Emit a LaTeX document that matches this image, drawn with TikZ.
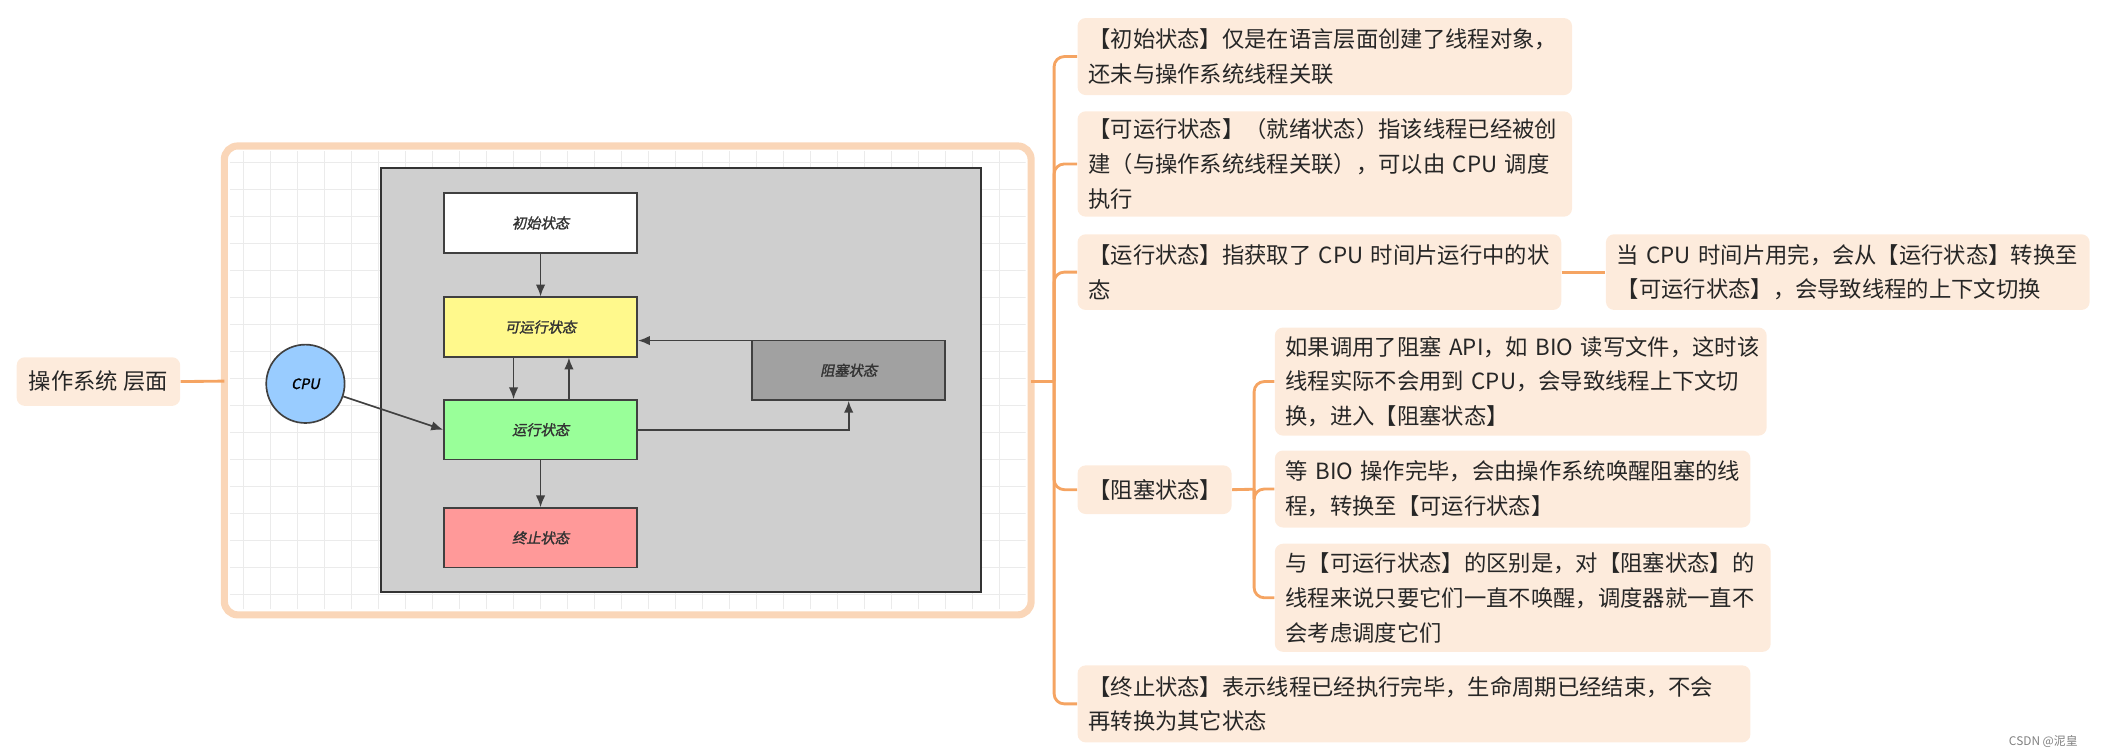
\documentclass[tikz,border=0pt]{standalone}
\usepackage{fontspec}
\setmainfont{Noto Sans CJK SC}
\newfontfamily\cjkit[FakeSlant=0.2,FakeBold=1.5]{Noto Sans CJK SC}
\usetikzlibrary{arrows.meta}
\definecolor{peach}{HTML}{FDEBDC}
\definecolor{orng}{HTML}{F5A462}
\definecolor{cpublue}{HTML}{99CCFF}
\begin{document}
\begin{tikzpicture}[x=0.02cm,y=-0.02cm,
  tbox/.style={fill=peach,rounded corners=0.12cm,anchor=north west,inner xsep=0.16cm,inner ysep=0pt,align=left,font=\fontsize{9.4}{14.6}\selectfont,text=black!85},
  br/.style={draw=orng,line width=1.2pt,rounded corners=0.15cm},
  st/.style={draw=black!75,line width=0.7pt,minimum width=2.86cm,minimum height=0.88cm,font=\cjkit\fontsize{6}{7}\selectfont,text=black!80},
  ar/.style={draw=black!75,line width=0.7pt,-{Latex[length=5pt,width=4pt]}}]
\useasboundingbox (0,0) rectangle (1568,558);
% root
\node[tbox,minimum width=2.42cm,minimum height=0.72cm] (root) at (12,264) {操作系统 层面};
% frame
\draw[draw=orng!45,line width=3pt,rounded corners=0.2cm,fill=white] (166,108) rectangle (763,455);
\begin{scope}
\clip (170,112) rectangle (759,451);
\draw[black!8,step=0.4cm] (170,112) grid (759,451);
\end{scope}
\draw[draw=orng,line width=1.2pt] (root.east) -- (166,282);
\draw[fill=black!19,draw=black!80,line width=0.8pt] (282,124) rectangle (726,438);
\node[st,fill=white] (init) at (400,165) {初始状态};
\node[st,fill=yellow!45] (runnable) at (400,242) {可运行状态};
\node[st,fill=green!40] (running) at (400,318) {运行状态};
\node[st,fill=red!40] (term) at (400,398) {终止状态};
\node[st,fill=black!37] (blocked) at (628,274) {阻塞状态};
\node[circle,draw=black!75,line width=0.7pt,fill=cpublue,minimum size=1.16cm,font=\cjkit\fontsize{6}{7}\selectfont] (cpu) at (226,284) {CPU};
\draw[ar] (init) -- (runnable);
\draw[ar] ([xshift=-0.4cm]runnable.south) -- ([xshift=-0.4cm]running.north);
\draw[ar] ([xshift=0.42cm]running.north) -- ([xshift=0.42cm]runnable.south);
\draw[ar] (running) -- (term);
\draw[ar] (cpu) -- (running.west);
\draw[ar] (running.east) -| (blocked.south);
\draw[ar] (blocked.north) |- ([yshift=-0.2cm]runnable.east);
% right side
\draw[br] (763,282) -- (780,282);
\node[tbox,text width=7.0cm,minimum height=1.14cm] (b1) at (797,13) {【初始状态】仅是在语言层面创建了线程对象，\\还未与操作系统线程关联};
\node[tbox,text width=7.0cm,minimum height=1.56cm] (b2) at (797,82) {【可运行状态】（就绪状态）指该线程已经被创\\建（与操作系统线程关联），可以由 CPU 调度\\执行};
\node[tbox,text width=6.84cm,minimum height=1.12cm] (b3) at (797,173) {【运行状态】指获取了 CPU 时间片运行中的状\\态};
\node[tbox,text width=6.84cm,minimum height=1.12cm] (b3a) at (1188,173) {当 CPU 时间片用完，会从【运行状态】转换至\\【可运行状态】，会导致线程的上下文切换};
\node[tbox,text width=1.96cm,minimum height=0.72cm] (b4) at (797,344) {【阻塞状态】};
\node[tbox,text width=6.96cm,minimum height=1.6cm] (b4a) at (943,242) {\mbox{如果调用了阻塞 API，如 BIO 读写文件，这时该}\\线程实际不会用到 CPU，会导致线程上下文切\\换，进入【阻塞状态】};
\node[tbox,text width=6.72cm,minimum height=1.14cm] (b4b) at (943,333) {\mbox{等 BIO 操作完毕，会由操作系统唤醒阻塞的线}\\程，转换至【可运行状态】};
\node[tbox,text width=7.02cm,minimum height=1.6cm] (b4c) at (943,402) {与【可运行状态】的区别是，对【阻塞状态】的\\线程来说只要它们一直不唤醒，调度器就一直不\\会考虑调度它们};
\node[tbox,text width=9.64cm,minimum height=1.14cm] (b5) at (797,492) {【终止状态】表示线程已经执行完毕，生命周期已经结束，不会\\再转换为其它状态};
\draw[br] (780,282) |- (b1.west);
\draw[br] (780,282) |- (b2.west);
\draw[br] (780,282) |- (b3.west);
\draw[br] (780,282) |- (b4.west);
\draw[br] (780,282) |- (b5.west);
\draw[br] (b3.east) -- (b3a.west);
\draw[br] (b4.east) -- (928,362);
\draw[br] (928,362) |- (b4a.west);
\draw[br] (928,362) |- (b4b.west);
\draw[br] (928,362) |- (b4c.west);
\node[font=\fontsize{5}{6}\selectfont,text=black!50] (wm) at (1512,549) {CSDN @泥皇};
\end{tikzpicture}
\end{document}
